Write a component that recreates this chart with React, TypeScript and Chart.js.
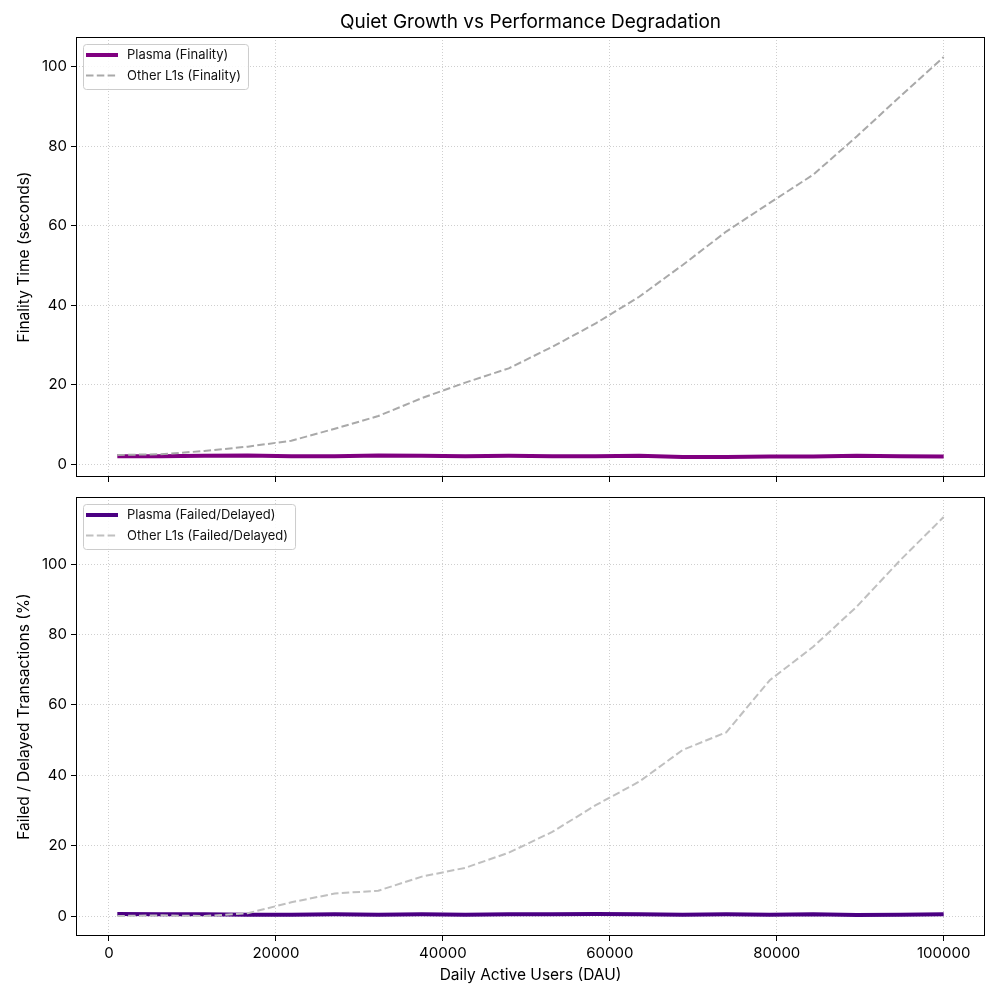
import React, { useEffect, useRef } from "react";
import { Chart, registerables } from "chart.js";

Chart.register(...registerables);

// ---- data ----
const dau = [1000, 6211, 11421, 16632, 21842, 27053, 32263, 37474, 42684, 47895, 53105, 58316, 63526, 68737, 73947, 79158, 84368, 89579, 94789, 100000];
const plasmaFinality = [2.0, 2.0, 2.1, 2.2, 2.0, 2.0, 2.2, 2.1, 2.0, 2.1, 2.0, 2.0, 2.1, 1.8, 1.8, 1.9, 1.9, 2.1, 2.0, 1.9];
const otherFinality = [2.3, 2.5, 3.3, 4.4, 5.9, 8.9, 12.1, 16.6, 20.5, 24.1, 29.5, 35.4, 42.1, 50.1, 58.5, 65.7, 72.8, 82.4, 92.5, 102.4];
const plasmaFailed = [0.6, 0.5, 0.5, 0.4, 0.4, 0.5, 0.4, 0.5, 0.4, 0.5, 0.5, 0.6, 0.5, 0.4, 0.5, 0.4, 0.5, 0.3, 0.4, 0.5];
const otherFailed = [0.0, 0.2, 0.0, 0.8, 3.9, 6.4, 7.2, 11.2, 13.7, 18.0, 23.9, 31.5, 38.2, 47.2, 52.2, 67.0, 76.5, 87.9, 101.1, 113.4];
const xTickValues = [0, 20000, 40000, 60000, 80000, 100000];
const yTickValues = [0, 20, 40, 60, 80, 100];

const titleText = "Quiet Growth vs Performance Degradation";
const xLabel = "Daily Active Users (DAU)";
const yLabelTop = "Finality Time (seconds)";
const yLabelBottom = "Failed / Delayed Transactions (%)";

const FONT = "Inter, 'DejaVu Sans', sans-serif";
const GRID = "#cfcfcf";

function paddedRange(values: number[]): [number, number] {
  const lo = Math.min(...values);
  const hi = Math.max(...values);
  const m = (hi - lo) * 0.05;
  return [lo - m, hi + m];
}

const frameLegendPlugin = {
  id: "frameLegend",
  afterDatasetsDraw(chart: any) {
    const { ctx, chartArea: a } = chart;
    ctx.save();
    // axes frame (all four spines)
    ctx.setLineDash([]);
    ctx.strokeStyle = "#000";
    ctx.lineWidth = 1;
    ctx.strokeRect(Math.round(a.left) + 0.5, Math.round(a.top) + 0.5, Math.round(a.right - a.left) - 1, Math.round(a.bottom - a.top) - 1);

    // legend box (upper-left, inside the axes)
    const fs = 13;
    ctx.font = `${fs}px ${FONT}`;
    const sets = chart.data.datasets;
    const textW = Math.max(...sets.map((d: any) => ctx.measureText(d.label).width));
    const bx = a.left + 7;
    const by = a.top + 7;
    const bw = 44 + textW + 7;
    const bh = 45;
    ctx.beginPath();
    ctx.roundRect(bx + 0.5, by + 0.5, bw, bh, 3);
    ctx.fillStyle = "rgba(255,255,255,0.85)";
    ctx.fill();
    ctx.strokeStyle = "#cccccc";
    ctx.lineWidth = 1;
    ctx.stroke();
    sets.forEach((d: any, i: number) => {
      const y = by + 11 + i * 20.5;
      ctx.beginPath();
      ctx.setLineDash(d.borderDash || []);
      ctx.strokeStyle = d.borderColor;
      ctx.lineWidth = d.borderWidth;
      ctx.moveTo(bx + 3, y);
      ctx.lineTo(bx + 35, y);
      ctx.stroke();
      ctx.setLineDash([]);
      ctx.fillStyle = "#111";
      ctx.textBaseline = "middle";
      ctx.textAlign = "left";
      ctx.fillText(d.label, bx + 44, y + 0.5);
    });
    ctx.restore();
  },
};

function makeConfig(opts: {
  plasma: number[];
  other: number[];
  plasmaLabel: string;
  otherLabel: string;
  plasmaColor: string;
  otherColor: string;
  yLabel: string;
  showTitle: boolean;
  showXLabels: boolean;
  xAxisHeight: number;
  padTop: number;
}): any {
  const [xMin, xMax] = paddedRange(dau);
  const [yMin, yMax] = paddedRange([...opts.plasma, ...opts.other]);
  return {
    type: "line",
    data: {
      datasets: [
        {
          label: opts.plasmaLabel,
          data: dau.map((x, i) => ({ x, y: opts.plasma[i] })),
          borderColor: opts.plasmaColor,
          backgroundColor: opts.plasmaColor,
          borderWidth: 4,
          pointRadius: 0,
          tension: 0,
          fill: false,
          order: 1,
        },
        {
          label: opts.otherLabel,
          data: dau.map((x, i) => ({ x, y: opts.other[i] })),
          borderColor: opts.otherColor,
          backgroundColor: opts.otherColor,
          borderWidth: 2,
          borderDash: [7.5, 3.3],
          pointRadius: 0,
          tension: 0,
          fill: false,
          order: 0,
        },
      ],
    },
    options: {
      animation: false,
      responsive: false,
      devicePixelRatio: 1,
      layout: { padding: { left: 0, right: 15, top: opts.padTop, bottom: 0 } },
      plugins: {
        legend: { display: false },
        tooltip: { enabled: false },
        title: {
          display: opts.showTitle,
          text: titleText,
          color: "#000",
          fullSize: false,
          font: { family: FONT, size: 19, weight: "normal", lineHeight: 1.2 },
          padding: { top: 10.5, bottom: 3.7 },
        },
      },
      scales: {
        x: {
          type: "linear",
          min: xMin,
          max: xMax,
          afterBuildTicks: (s: any) => {
            s.ticks = xTickValues.map((v) => ({ value: v }));
          },
          afterFit: (s: any) => {
            s.height = opts.xAxisHeight;
            s.paddingLeft = 0;
            s.paddingRight = 0;
          },
          ticks: {
            display: opts.showXLabels,
            color: "#000",
            font: { family: FONT, size: 15 },
            padding: 3,
            maxRotation: 0,
            autoSkip: false,
            callback: (v: any) => String(v),
          },
          grid: {
            color: GRID,
            lineWidth: 1,
            drawTicks: true,
            tickLength: 5,
            tickColor: "#000",
            tickWidth: 1,
          },
          border: { display: false, dash: [1, 2] },
          title: {
            display: opts.showXLabels,
            text: xLabel,
            color: "#000",
            font: { family: FONT, size: 15.5, lineHeight: 1.2 },
            padding: { top: 0, bottom: 15.7 },
          },
        },
        y: {
          type: "linear",
          min: yMin,
          max: yMax,
          afterBuildTicks: (s: any) => {
            s.ticks = yTickValues.map((v) => ({ value: v }));
          },
          afterFit: (s: any) => {
            s.width = 76;
            s.paddingTop = 0;
            s.paddingBottom = 0;
          },
          ticks: {
            color: "#000",
            font: { family: FONT, size: 15 },
            padding: 4,
            callback: (v: any) => String(v),
          },
          grid: {
            color: GRID,
            lineWidth: 1,
            drawTicks: true,
            tickLength: 5,
            tickColor: "#000",
            tickWidth: 1,
          },
          border: { display: false, dash: [1, 2] },
          title: {
            display: true,
            text: opts.yLabel,
            color: "#000",
            font: { family: FONT, size: 15.5, lineHeight: 1.2 },
            padding: { top: 14.7, bottom: 0 },
          },
        },
      },
    },
    plugins: [frameLegendPlugin],
  };
}

function ChartCanvas(props: { config: () => any; width: number; height: number; top: number }) {
  const ref = useRef<HTMLCanvasElement | null>(null);
  useEffect(() => {
    if (!ref.current) return;
    const chart = new Chart(ref.current, props.config());
    return () => chart.destroy();
  }, []);
  return (
    <canvas
      ref={ref}
      width={props.width}
      height={props.height}
      style={{ position: "absolute", left: 0, top: props.top, width: props.width, height: props.height }}
    />
  );
}

export default function App() {
  return (
    <div style={{ position: "absolute", left: 0, top: 0, width: 1000, height: 1000, background: "#fff" }}>
      <ChartCanvas
        width={1000}
        height={490}
        top={0}
        config={() =>
          makeConfig({
            plasma: plasmaFinality,
            other: otherFinality,
            plasmaLabel: "Plasma (Finality)",
            otherLabel: "Other L1s (Finality)",
            plasmaColor: "#800080",
            otherColor: "#a9a9a9",
            yLabel: yLabelTop,
            showTitle: true,
            showXLabels: false,
            xAxisHeight: 13,
            padTop: 0,
          })
        }
      />
      <ChartCanvas
        width={1000}
        height={513}
        top={487}
        config={() =>
          makeConfig({
            plasma: plasmaFailed,
            other: otherFailed,
            plasmaLabel: "Plasma (Failed/Delayed)",
            otherLabel: "Other L1s (Failed/Delayed)",
            plasmaColor: "#4b0082",
            otherColor: "#c0c0c0",
            yLabel: yLabelBottom,
            showTitle: false,
            showXLabels: true,
            xAxisHeight: 64,
            padTop: 10,
          })
        }
      />
    </div>
  );
}
